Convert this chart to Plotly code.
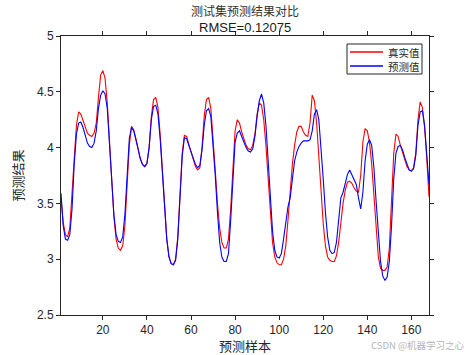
import plotly.graph_objects as go

samples = list(range(1, 169))

true_vals = [
    3.55, 3.33, 3.22, 3.20, 3.28, 3.55, 3.90, 4.20, 4.32, 4.30,
    4.24, 4.18, 4.13, 4.11, 4.10, 4.13, 4.22, 4.45, 4.65, 4.69,
    4.62, 4.40, 4.05, 3.68, 3.38, 3.18, 3.10, 3.08, 3.12, 3.30,
    3.65, 4.02, 4.19, 4.16, 4.08, 3.98, 3.90, 3.85, 3.83, 3.86,
    4.00, 4.28, 4.43, 4.45, 4.36, 4.12, 3.80, 3.45, 3.18, 3.02,
    2.96, 2.95, 3.00, 3.20, 3.55, 3.95, 4.11, 4.10, 4.03, 3.96,
    3.89, 3.83, 3.80, 3.82, 4.00, 4.28, 4.43, 4.45, 4.35, 4.10,
    3.80, 3.50, 3.28, 3.15, 3.10, 3.10, 3.18, 3.45, 3.82, 4.15,
    4.25, 4.22, 4.14, 4.07, 4.02, 3.99, 3.98, 4.02, 4.12, 4.30,
    4.40, 4.38, 4.25, 4.02, 3.70, 3.40, 3.15, 3.02, 2.97, 2.95,
    2.95, 3.00, 3.12, 3.35, 3.62, 3.85, 4.02, 4.14, 4.19, 4.19,
    4.14, 4.11, 4.10, 4.22, 4.47, 4.42, 4.22, 3.92, 3.60, 3.32,
    3.12, 3.02, 2.99, 2.98, 2.98, 3.03, 3.15, 3.33, 3.50, 3.62,
    3.69, 3.70, 3.68, 3.64, 3.61, 3.60, 3.75, 4.05, 4.17, 4.15,
    4.05, 3.85, 3.55, 3.25, 3.02, 2.92, 2.90, 2.90, 2.93, 3.10,
    3.50, 3.95, 4.12, 4.10, 4.02, 3.95, 3.88, 3.83, 3.80, 3.79,
    3.82, 3.95, 4.25, 4.41, 4.36, 4.18, 3.90, 3.56,
]

pred_vals = [
    3.59, 3.30, 3.18, 3.17, 3.22, 3.45, 3.85, 4.12, 4.22, 4.23,
    4.18, 4.10, 4.04, 4.01, 4.00, 4.04, 4.15, 4.35, 4.47, 4.51,
    4.48, 4.35, 4.05, 3.70, 3.40, 3.22, 3.16, 3.15, 3.20, 3.40,
    3.75, 4.08, 4.18, 4.15, 4.07, 3.98, 3.90, 3.85, 3.83, 3.86,
    4.00, 4.25, 4.37, 4.38, 4.30, 4.08, 3.78, 3.45, 3.18, 3.02,
    2.96, 2.95, 2.99, 3.18, 3.52, 3.92, 4.09, 4.08, 4.02, 3.96,
    3.90, 3.85, 3.82, 3.84, 3.98, 4.20, 4.33, 4.35, 4.28, 4.05,
    3.75, 3.42, 3.15, 3.02, 2.98, 2.98, 3.05, 3.35, 3.75, 4.05,
    4.13, 4.15, 4.10, 4.04, 4.00, 3.97, 3.96, 3.99, 4.10, 4.28,
    4.42, 4.48, 4.40, 4.20, 3.88, 3.55, 3.25, 3.08, 3.02, 3.01,
    3.05, 3.18, 3.35, 3.47, 3.55, 3.72, 3.88, 3.96, 4.01, 4.04,
    4.06, 4.06, 4.06, 4.07, 4.15, 4.30, 4.34, 4.25, 4.02, 3.72,
    3.42, 3.20, 3.08, 3.05, 3.06, 3.15, 3.35, 3.55, 3.60, 3.68,
    3.76, 3.80, 3.76, 3.71, 3.67, 3.55, 3.45, 3.60, 3.88, 4.03,
    4.07, 4.02, 3.82, 3.52, 3.20, 2.98, 2.85, 2.81, 2.84, 2.98,
    3.30, 3.72, 3.95, 4.01, 4.02, 3.98, 3.91, 3.85, 3.80, 3.79,
    3.81, 3.93, 4.20, 4.32, 4.33, 4.20, 3.95, 3.67,
]

x_ticks = [20, 40, 60, 80, 100, 120, 140, 160]
y_ticks = [2.5, 3, 3.5, 4, 4.5, 5]
y_tick_text = ["2.5", "3", "3.5", "4", "4.5", "5"]

series_names = ["真实值", "预测值"]
series_colors = ["#ff0000", "#0000ff"]

title_main = "测试集预测结果对比"
title_sub = "RMSE=0.12075"
watermark = "CSDN @机器学习之心"

CJK = "Noto Sans CJK SC"
SANS = "Liberation Sans, Arial, sans-serif"
AX = "#262626"

# plot-area pixel geometry
W, H = 474, 355
PL, PR, PT, PB = 61, 429, 36, 315


def px_to_paper_x(px):
    return (px - PL) / (PR - PL)


def px_to_paper_y(py):
    return (PB - py) / (PB - PT)


fig = go.Figure()
for name, vals, col in zip(series_names, [true_vals, pred_vals], series_colors):
    fig.add_trace(go.Scatter(x=samples, y=vals, mode="lines", name=name,
                             line=dict(color=col, width=1.1), showlegend=False))

axis_common = dict(showline=True, linecolor=AX, linewidth=1, mirror="ticks",
                   ticks="outside", ticklen=4, tickcolor=AX, tickwidth=1,
                   showgrid=False, zeroline=False, automargin=False,
                   tickfont=dict(family=SANS, size=12, color=AX))

# compact legend box (MATLAB style)
LX0, LX1, LY0, LY1 = 347, 422, 44, 74
row_y = [52, 66]
shapes = [dict(type="rect", xref="paper", yref="paper",
               x0=px_to_paper_x(LX0), x1=px_to_paper_x(LX1),
               y0=px_to_paper_y(LY1), y1=px_to_paper_y(LY0),
               line=dict(color=AX, width=1), fillcolor="white", layer="above")]
legend_anns = []
for name, col, ry in zip(series_names, series_colors, row_y):
    shapes.append(dict(type="line", xref="paper", yref="paper",
                       x0=px_to_paper_x(350), x1=px_to_paper_x(383),
                       y0=px_to_paper_y(ry), y1=px_to_paper_y(ry),
                       line=dict(color=col, width=1.3), layer="above"))
    legend_anns.append(dict(text=name, x=px_to_paper_x(386), y=px_to_paper_y(ry),
                            xref="paper", yref="paper", showarrow=False,
                            xanchor="left", yanchor="middle",
                            font=dict(family=CJK, size=10.5, color=AX)))

fig.update_layout(
    width=W, height=H,
    margin=dict(l=PL, r=W - PR, t=PT, b=H - PB),
    paper_bgcolor="white", plot_bgcolor="white",
    xaxis=dict(range=[1, 168], tickvals=x_ticks,
               title=dict(text="预测样本", font=dict(family=CJK, size=13, color=AX), standoff=4),
               **axis_common),
    yaxis=dict(range=[2.5, 5], tickvals=y_ticks, ticktext=y_tick_text,
               title=dict(text="预测结果", font=dict(family=CJK, size=13, color=AX), standoff=10),
               **axis_common),
    showlegend=False,
    shapes=shapes,
    annotations=[
        dict(text=title_main, x=0.5, y=px_to_paper_y(11), xref="paper", yref="paper",
             showarrow=False, yanchor="middle",
             font=dict(family=CJK, size=12, color="#333333")),
        dict(text=title_sub, x=0.5, y=px_to_paper_y(27), xref="paper", yref="paper",
             showarrow=False, yanchor="middle",
             font=dict(family=SANS, size=13, color="#1a1a1a")),
        dict(text=watermark, x=px_to_paper_x(466), y=px_to_paper_y(345), xref="paper",
             yref="paper", showarrow=False, xanchor="right", yanchor="middle",
             font=dict(family=CJK, size=9.5, color="#b5b5b5")),
    ] + legend_anns,
)

fig.write_html("out.html", config={"displayModeBar": False},
               post_script="document.body.style.margin='0';document.body.style.padding='0';")
